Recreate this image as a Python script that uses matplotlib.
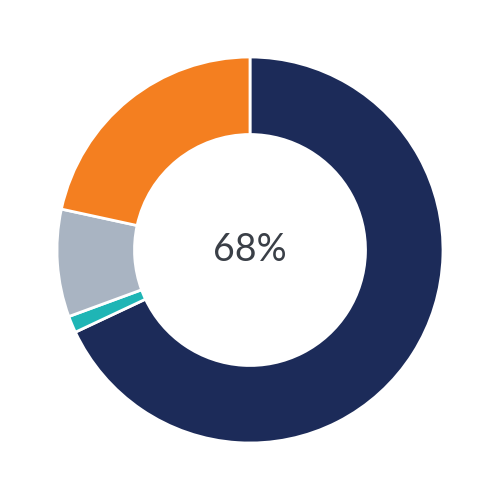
import matplotlib
matplotlib.use("Agg")
import matplotlib.pyplot as plt

labels = ["A", "B", "C", "D"]
values = [68, 1.4, 9, 21.6]
colors = ["#1c2b59", "#1fb5b5", "#a9b4c2", "#f47f20"]
center_label = "68%"

fig = plt.figure(figsize=(5, 5), dpi=100)
ax = fig.add_axes([0, 0, 1, 1])
ax.pie(values, colors=colors, startangle=90, counterclock=False, radius=0.772,
       wedgeprops=dict(width=0.31, edgecolor="white", linewidth=2))
ax.text(0, 0, center_label, ha="center", va="center", fontsize=27,
        color="#3a3f47", family=["Lato", "DejaVu Sans"])
ax.set_xlim(-1, 1); ax.set_ylim(-1, 1)
ax.set_aspect("equal")
ax.axis("off")
fig.savefig("out.png", dpi=100, facecolor="white")
